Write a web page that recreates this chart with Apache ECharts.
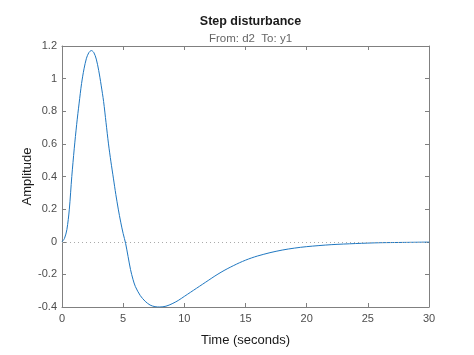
<!DOCTYPE html>
<html><head><meta charset="utf-8">
<script src="https://cdn.jsdelivr.net/npm/echarts@6/dist/echarts.min.js"></script>
<style>html,body{margin:0;padding:0;background:#fff}#c{width:474px;height:355px}</style>
</head><body><div id="c"></div>
<script>
const timeValues = [0,0.2,0.4,0.6,0.8,1.0,1.2,1.4,1.6,1.8,2.0,2.2,2.4,2.6,2.8,3.0,3.2,3.4,3.6,3.8,4.0,4.2,4.4,4.6,4.8,5.0,5.2,5.4,5.6,5.8,6.0,6.4,6.8,7.2,7.6,8.0,8.5,9.0,9.5,10.0,10.5,11.0,11.5,12.0,12.5,13.0,13.5,14.0,14.5,15.0,15.5,16.0,17.0,18.0,19.0,20.0,22.0,24.0,26.0,28.0,30.0];
const amplitudeValues = [0,0.02,0.075,0.2,0.40,0.57,0.72,0.85,0.97,1.06,1.125,1.16,1.172,1.16,1.12,1.05,0.96,0.86,0.73,0.60,0.49,0.39,0.29,0.20,0.12,0.05,-0.01,-0.09,-0.17,-0.23,-0.275,-0.33,-0.365,-0.388,-0.398,-0.40,-0.395,-0.38,-0.36,-0.335,-0.31,-0.285,-0.26,-0.235,-0.21,-0.187,-0.166,-0.147,-0.129,-0.113,-0.099,-0.087,-0.067,-0.051,-0.039,-0.030,-0.018,-0.011,-0.006,-0.004,-0.002];
const titleText = 'Step disturbance';
const subtitleText = 'From: d2  To: y1';
const xAxisTitle = 'Time (seconds)';
const yAxisTitle = 'Amplitude';

const data = timeValues.map((t, i) => [t, amplitudeValues[i]]);
const axisCol = '#808080';
const labelCol = '#4d4d4d';
const font = 'Liberation Sans, Arial, sans-serif';
const chart = echarts.init(document.getElementById('c'), null, {renderer: 'canvas'});
const baseAxis = {
  axisLine: {show: true, onZero: false, lineStyle: {color: axisCol, width: 1}},
  axisTick: {show: true, inside: true, length: 4, lineStyle: {color: axisCol}},
  splitLine: {show: false}
};
chart.setOption({
  animation: false,
  title: [
    {text: titleText, left: 245.5, top: 10, textAlign: 'center',
     textStyle: {fontFamily: font, fontSize: 12.5, fontWeight: 'bold', color: '#1a1a1a'}},
    {text: subtitleText, left: 245.5, top: 28, textAlign: 'center',
     textStyle: {fontFamily: font, fontSize: 11.5, fontWeight: 'normal', color: '#666'}}
  ],
  grid: {left: 62, right: 45, top: 46, bottom: 48, containLabel: false},
  xAxis: [
    Object.assign({}, baseAxis, {type: 'value', min: 0, max: 30, interval: 5, position: 'bottom',
      name: xAxisTitle, nameLocation: 'middle', nameGap: 27, nameMoveOverlap: false,
      nameTextStyle: {fontFamily: font, fontSize: 13, color: '#1a1a1a'},
      axisLabel: {fontFamily: font, fontSize: 11, color: labelCol, margin: 6}}),
    Object.assign({}, baseAxis, {type: 'value', min: 0, max: 30, interval: 5, position: 'top',
      axisLabel: {show: false}})
  ],
  yAxis: [
    Object.assign({}, baseAxis, {type: 'value', min: -0.4, max: 1.2, interval: 0.2, position: 'left',
      name: yAxisTitle, nameLocation: 'middle', nameGap: 28, nameMoveOverlap: false,
      nameTextStyle: {fontFamily: font, fontSize: 13, color: '#1a1a1a'},
      axisLabel: {fontFamily: font, fontSize: 11, color: labelCol, margin: 5,
        formatter: v => String(Math.round(v * 10) / 10)}}),
    Object.assign({}, baseAxis, {type: 'value', min: -0.4, max: 1.2, interval: 0.2, position: 'right',
      axisLabel: {show: false}})
  ],
  series: [{
    type: 'line', data: data, showSymbol: false, smooth: 0.3,
    lineStyle: {color: '#1f77c0', width: 1},
    markLine: {silent: true, symbol: 'none', label: {show: false},
      lineStyle: {type: [1, 3], color: '#aaa', width: 1},
      data: [{yAxis: 0}]}
  }]
});
</script></body></html>
